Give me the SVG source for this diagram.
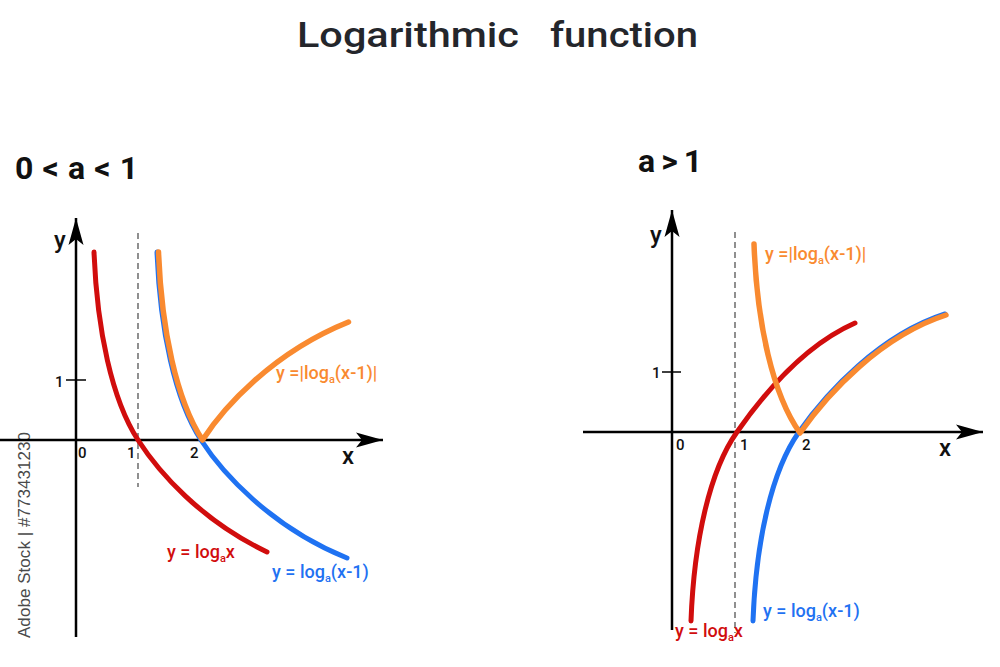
<svg xmlns="http://www.w3.org/2000/svg" width="1000" height="667" viewBox="0 0 1000 667">
<style>
.title{font-family:Roboto,"Liberation Sans",sans-serif;font-weight:500;fill:#24262b}
.head{font-family:Roboto,"Liberation Sans",sans-serif;font-weight:700;fill:#111}
.num{font-family:Roboto,"Liberation Sans",sans-serif;font-weight:500;font-size:15px;fill:#111}
.ax{font-family:Roboto,"Liberation Sans",sans-serif;font-weight:500;font-size:24px;fill:#111}
.lbl{font-family:Roboto,"Liberation Sans",sans-serif;font-weight:500;font-size:18px}
.sub{font-size:11px}
.axis{stroke:#000;stroke-width:2.5;fill:none}
.tick{stroke:#000;stroke-width:1.5}
.dash{stroke:#555;stroke-width:1.3;stroke-dasharray:6 4;fill:none}
.cv{fill:none;stroke-width:5;stroke-linecap:round;stroke-linejoin:round}
.red{stroke:#d10d0d}.blue{stroke:#1f72f2}.orange{stroke:#f98a30;stroke-width:5.5}
.tred{fill:#d10d0d}.tblue{fill:#1f72f2}.torange{fill:#f98a30}
</style>
<defs>
<marker id="arr" markerUnits="userSpaceOnUse" markerWidth="28" markerHeight="16" viewBox="0 0 28 16" refX="27" refY="8" orient="auto">
<path d="M0,0.5 L27,8 L0,15.5 L6,8 Z" fill="#000"/>
</marker>
</defs>
<rect width="1000" height="667" fill="#fff"/>

<g id="title">
<text class="title" x="297" y="47" font-size="35" textLength="222" lengthAdjust="spacingAndGlyphs">Logarithmic</text>
<text class="title" x="550" y="47" font-size="35" textLength="148" lengthAdjust="spacingAndGlyphs">function</text>
</g>

<text id="watermark" transform="translate(30,638) rotate(-90)" font-family="Liberation Sans, sans-serif" font-size="17" fill="#4a4a4a" textLength="206">Adobe Stock | #773431230</text>

<!-- Left panel: 0 < a < 1 -->
<g id="left-heading"><text class="head" x="15" y="179" font-size="32" textLength="123" lengthAdjust="spacing">0 &lt; a &lt; 1</text></g>
<g id="left-axes">
<path class="axis" d="M0,440 L383,440" marker-end="url(#arr)"/>
<path class="axis" d="M76,637 L76,218" marker-end="url(#arr)"/>
<line class="tick" x1="66" y1="380" x2="86" y2="380"/>
<line class="dash" x1="138" y1="233" x2="138" y2="487"/>
<text class="ax" x="54" y="248">y</text>
<text class="ax" x="342" y="464">x</text>
<text class="num" x="55" y="387">1</text>
<text class="num" x="78" y="458">0</text>
<text class="num" x="127" y="458">1</text>
<text class="num" x="190" y="458">2</text>
</g>
<g id="left-curves">
<g id="left-red"><path class="cv red" d="M94,252 C97,330 112,400 138,440 C158,471 200,520 267,552"/></g>
<g id="left-blue"><path class="cv blue" d="M157,252 C160,330 175,400 201,440 C221,471 270,527 347,558"/></g>
<g id="left-orange" transform="translate(1.5,0)"><path class="cv orange" d="M157,252 C160,330 175,400 201,440 C221,409 270,353 347,322"/></g>
</g>
<g id="left-labels">
<text class="lbl tred" x="167" y="558">y = log<tspan class="sub" dy="4">a</tspan><tspan dy="-4">x</tspan></text>
<text class="lbl tblue" x="272" y="578">y = log<tspan class="sub" dy="4">a</tspan><tspan dy="-4">(x-1)</tspan></text>
<text class="lbl torange" x="276" y="379">y =|log<tspan class="sub" dy="4">a</tspan><tspan dy="-4">(x-1)|</tspan></text>
</g>

<!-- Right panel: a > 1 -->
<g id="right-heading"><text class="head" x="638" y="172" font-size="32" textLength="64" lengthAdjust="spacing">a &gt; 1</text></g>
<g id="right-axes">
<path class="axis" d="M583,432 L983,432" marker-end="url(#arr)"/>
<path class="axis" d="M672,630 L672,210" marker-end="url(#arr)"/>
<line class="tick" x1="662" y1="372" x2="681" y2="372"/>
<line class="dash" x1="735" y1="232" x2="735" y2="633"/>
<text class="ax" x="650" y="243">y</text>
<text class="ax" x="939" y="456">x</text>
<text class="num" x="652" y="378">1</text>
<text class="num" x="676" y="450">0</text>
<text class="num" x="740" y="450">1</text>
<text class="num" x="802" y="450">2</text>
</g>
<g id="right-curves">
<g id="right-red"><path class="cv red" d="M691,621 C694,540 710,470 737,432 C765,392 805,345 855,323"/></g>
<g id="right-blue"><path class="cv blue" d="M753,621 C756,540 772,470 799,432 C827,392 880,335 945,314"/></g>
<g id="right-orange" transform="translate(1,1)"><path class="cv orange" d="M753,243 C756,324 772,394 799,432 C827,392 880,335 945,314"/></g>
</g>
<g id="right-labels">
<text class="lbl tred" x="675" y="637">y = log<tspan class="sub" dy="4">a</tspan><tspan dy="-4">x</tspan></text>
<text class="lbl tblue" x="763" y="617">y = log<tspan class="sub" dy="4">a</tspan><tspan dy="-4">(x-1)</tspan></text>
<text class="lbl torange" x="765" y="260">y =|log<tspan class="sub" dy="4">a</tspan><tspan dy="-4">(x-1)|</tspan></text>
</g>
</svg>
